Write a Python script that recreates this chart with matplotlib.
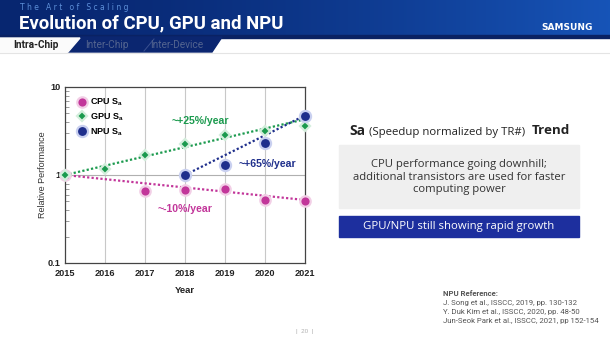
import numpy as np
import matplotlib
matplotlib.use("Agg")
import matplotlib.pyplot as plt
from matplotlib.patches import Rectangle, Polygon

# ---- data ----
years = [2015, 2016, 2017, 2018, 2019, 2020, 2021]
cpu_years = [2015, 2017, 2018, 2019, 2020, 2021]
cpu_sa = [1.0, 0.66, 0.68, 0.70, 0.52, 0.51]
gpu_years = [2015, 2016, 2017, 2018, 2019, 2020, 2021]
gpu_sa = [1.0, 1.17, 1.70, 2.24, 2.86, 3.15, 3.65]
npu_years = [2018, 2019, 2020, 2021]
npu_sa = [1.0, 1.29, 2.32, 4.74]

# trend lines (start / end)
cpu_trend = ([2015, 2021], [1.0, 0.52])
gpu_trend = ([2015, 2021], [1.0, 4.3])
npu_trend = ([2018, 2021], [1.0, 4.75])

refs = ["J. Song et al., ISSCC, 2019, pp. 130-132",
        "Y. Duk Kim et al., ISSCC, 2020, pp. 48-50",
        "Jun-Seok Park et al., ISSCC, 2021, pp 152-154"]

c_cpu, c_gpu, c_npu = "#c2369a", "#1b9a4e", "#1f2f8c"
narrow = ["Liberation Sans Narrow", "Roboto"]

fig = plt.figure(figsize=(6.1, 3.4), dpi=100)
fig.patch.set_facecolor("white")

# ---- slide background (pixel coordinates) ----
bg = fig.add_axes([0, 0, 1, 1])
bg.set_xlim(0, 610)
bg.set_ylim(340, 0)
bg.axis("off")

grad = np.linspace(0, 1, 300)
c0 = np.array([0.03, 0.15, 0.44])
c1 = np.array([0.09, 0.33, 0.72])
img = c0[None, :] + (c1 - c0)[None, :] * grad[:, None] ** 1.5
img = img[None, :, :].repeat(2, axis=0)
bg.imshow(img, extent=(0, 610, 38, 0), aspect="auto", zorder=0)
bg.add_patch(Rectangle((0, 35), 610, 3, color="#0a2263", zorder=1))
# tab bar
bg.add_patch(Polygon([[80, 37], [68, 52], [212, 52], [222, 37]], closed=True,
                     color="#0b2670", zorder=1))
bg.add_patch(Polygon([[0, 38], [80, 38], [68, 52], [0, 52]], closed=True,
                     color="#fbfbfb", zorder=1))
bg.plot([154, 144], [39, 51], color="#3a5090", lw=0.7, zorder=2)
bg.plot([0, 610], [53, 53], color="#e4e4e4", lw=0.8, zorder=1)

bg.text(20, 8, "T h e   A r t   o f   S c a l i n g", color="#5d8fd8",
        fontsize=5.5, family="DejaVu Sans", va="center", zorder=3)
bg.text(19, 23, "Evolution of CPU, GPU and NPU", color="white", fontsize=13.4,
        fontweight="bold", family=narrow, va="center", zorder=3)
bg.text(567, 27, "SAMSUNG", color="white", fontsize=6.5, fontweight="bold",
        family="DejaVu Sans", ha="center", va="center", zorder=3)
bg.text(13, 45.5, "Intra-Chip", color="#222222", fontsize=7.3,
        fontweight="bold", family=narrow, va="center", zorder=3)
bg.text(85, 45.5, "Inter-Chip", color="#53648f", fontsize=7.3,
        family=narrow, va="center", zorder=3)
bg.text(150, 45.5, "Inter-Device", color="#53648f", fontsize=7.3,
        family=narrow, va="center", zorder=3)

# right panel
bg.text(349, 131, "Sa", fontsize=10, fontweight="bold", family="Open Sans",
        color="#222222", va="center", zorder=3)
bg.text(369, 132, "(Speedup normalized by TR#)", fontsize=8.2,
        family="Open Sans", color="#222222", va="center", zorder=3)
bg.text(532, 131, "Trend", fontsize=9.6, fontweight="bold", family="Open Sans",
        color="#222222", va="center", zorder=3)
bg.add_patch(Rectangle((339, 145), 240, 63, color="#efefef", zorder=1))
bg.text(459, 177, "CPU performance going downhill;\nadditional transistors are used for faster\ncomputing power",
        fontsize=8.1, family="Open Sans", color="#333333", ha="center",
        va="center", linespacing=1.2, zorder=3)
bg.add_patch(Rectangle((339, 216), 240, 21, color="#1d2f9e", zorder=1))
bg.text(459, 226.5, "GPU/NPU still showing rapid growth", fontsize=8.2,
        family="Open Sans", color="white", ha="center", va="center", zorder=3)

bg.text(443, 293, "NPU Reference:", fontsize=5.6, fontweight="bold",
        family=narrow, color="#555555", va="center", zorder=3)
for i, r in enumerate(refs):
    bg.text(443, 303 + 9 * i, r, fontsize=5.6, family=narrow,
            color="#555555", va="center", zorder=3)
bg.text(305, 331, "|  20  |", fontsize=4.5, family="Liberation Sans",
        color="#b0b0b0", ha="center", va="center", zorder=3)

# ---- chart ----
ax = fig.add_axes([65 / 610, 1 - 263 / 340, 240 / 610, 176 / 340])
ax.set_facecolor("none")
ax.set_yscale("log")
ax.set_xlim(2015, 2021)
ax.set_ylim(0.1, 10)
ax.set_xticks(years)
ax.set_yticks([0.1, 1, 10])
ax.set_yticklabels(["0.1", "1", "10"])
for y in years[1:-1]:
    ax.axvline(y, color="#c8c8c8", lw=0.8, zorder=0)
ax.axhline(1, color="#b0b0b0", lw=0.8, zorder=0)
for s in ax.spines.values():
    s.set_color("#444444")
    s.set_linewidth(0.9)
ax.tick_params(axis="both", which="both", direction="in", length=0,
               labelsize=6.6, pad=3, colors="#222222")
ax.tick_params(axis="y", which="minor", length=3, width=0.6,
               color="#888888", labelleft=False)
ax.tick_params(axis="x", pad=4)
for lab in ax.get_xticklabels() + ax.get_yticklabels():
    lab.set_fontweight("bold")
    lab.set_family("Liberation Sans")

ax.plot(*cpu_trend, color=c_cpu, ls=(0, (1, 1)), lw=1.6, zorder=2)
ax.plot(*gpu_trend, color=c_gpu, ls=(0, (1, 1)), lw=1.6, zorder=2)
ax.plot(*npu_trend, color=c_npu, ls=(0, (1, 1)), lw=1.6, zorder=2)

ax.plot(cpu_years, cpu_sa, "o", color=c_cpu, ms=7.5, mec="#f2cfe6", mew=1.6,
        label="CPU S$_\\mathregular{a}$", zorder=4, clip_on=False)
ax.plot(gpu_years, gpu_sa, "D", color=c_gpu, ms=5, mec="#d4eedc", mew=1.6,
        label="GPU S$_\\mathregular{a}$", zorder=4, clip_on=False)
ax.plot(npu_years, npu_sa, "o", color=c_npu, ms=8, mec="#c9d0f0", mew=1.6,
        label="NPU S$_\\mathregular{a}$", zorder=5, clip_on=False)

leg = ax.legend(loc="upper left", frameon=False, handlelength=1.0,
                handletextpad=0.4, labelspacing=0.35, borderpad=0.3,
                bbox_to_anchor=(0.02, 0.985),
                prop={"family": "Liberation Sans", "weight": "bold", "size": 6.5})

ax.text(2017.67, 4.1, "~+25%/year", color=c_gpu, fontsize=7.6,
        fontweight="bold", family="Liberation Sans", va="center")
ax.text(2019.35, 1.33, "~+65%/year", color=c_npu, fontsize=7.6,
        fontweight="bold", family="Liberation Sans", va="center")
ax.text(2017.32, 0.41, "~-10%/year", color=c_cpu, fontsize=7.6,
        fontweight="bold", family="Liberation Sans", va="center")

ax.set_xlabel("Year", fontsize=6.8, fontweight="bold",
              family="Liberation Sans", color="#222222", labelpad=6)
ax.set_ylabel("Relative Performance", fontsize=6.5, family="Liberation Sans",
              color="#333333", labelpad=1)

fig.savefig("out.png", dpi=100)
